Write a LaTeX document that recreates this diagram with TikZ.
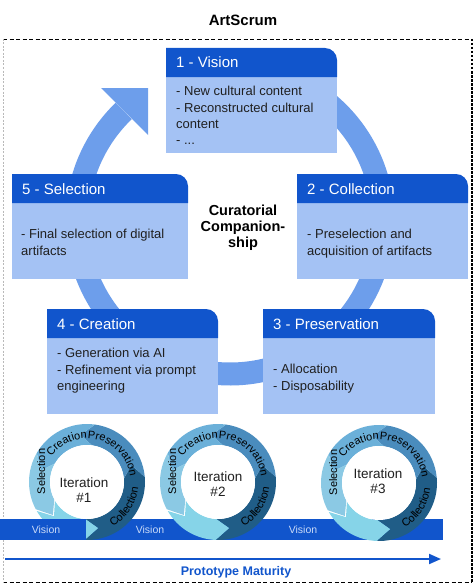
\documentclass[tikz,border=0pt]{standalone}
\usepackage{fontspec}
\setmainfont{Liberation Sans}
\usetikzlibrary{calc,decorations.text,arrows.meta}
\definecolor{hdr}{HTML}{1155CC}
\definecolor{bod}{HTML}{A4C2F4}
\definecolor{ringc}{HTML}{6D9EEB}
\definecolor{txt}{HTML}{202020}
\definecolor{cSel}{HTML}{8BC9E4}
\definecolor{cCre}{HTML}{6BB0D9}
\definecolor{cPre}{HTML}{4A8CBD}
\definecolor{cCol}{HTML}{205D87}
\definecolor{cVis}{HTML}{86D4E8}
\definecolor{vistxt}{HTML}{C9DAF8}
\newcommand\fs[2]{\fontsize{#1}{#2}\selectfont}
\newcommand\ringfont{\fontsize{11}{13}\selectfont}
\def\rO{58}
\def\rI{37}
\def\rM{47.5}
\def\dA{16}
% annular segment with notched trailing end and pointed leading end
\newcommand\ringseg[3]{%
  \fill[#3] (#1:\rO) arc[start angle=#1, end angle=#2, radius=\rO]
    -- ({#2-\dA}:\rM) -- (#2:\rI) arc[start angle=#2, end angle=#1, radius=\rI]
    -- ({#1-\dA}:\rM) -- cycle;}
\newcommand\stagebox[5]{%
  \fill[bod] (#1,#4) rectangle (#3,#5);
  \fill[hdr] (#1,#4) -- (#1,#2) -- ({#3-12},#2) arc[start angle=270, end angle=360, radius=12] -- (#3,#4) -- cycle;}
\newcommand\iterring[3]{%
  \begin{scope}[shift={(#1,#2)}]
    \ringseg{150}{92}{cVis}
    \ringseg{92}{-5}{cCol}
    \ringseg{-5}{-82}{cPre}
    \ringseg{-82}{-150}{cCre}
    \ringseg{-150}{-208}{cSel}
    \fill[white] (0,0) circle[radius=\rI];
    \node[ringlbl, rotate=90] (sel#3) at (193:47) {Selection};
    \path[decorate, decoration={text along path, text align=center,
      text={|\ringfont|Creation}}] (-155.5:43.5) arc[start angle=-155.5, end angle=-79.5, radius=43.5];
    \path[decorate, decoration={text along path, text align=center,
      text={|\ringfont|Preservation}}] (-100.5:43.5) arc[start angle=-100.5, end angle=3.5, radius=43.5];
    \path[decorate, decoration={text along path, text align=center,
      text={|\ringfont|Collection}}] (77:51.5) arc[start angle=77, end angle=-11, radius=51.5];
  \end{scope}}
\begin{document}
\begin{tikzpicture}[x=1pt,y=-1pt,
  hdrtext/.style={anchor=west, text=white, font=\fs{15}{18}, inner sep=0},
  bodytext/.style={anchor=north west, align=left, text=txt, font=\fs{13}{16.3}, inner sep=0},
  ringlbl/.style={font=\ringfont, text=black, inner sep=0},
  itertext/.style={align=center, text=txt, font=\fs{13.5}{15.5}, inner sep=0},
  vislbl/.style={text=vistxt, font=\fs{10.5}{12}, inner sep=0}]
\useasboundingbox (0,0) rectangle (474,586);

% frame
\coordinate (ftl) at (3,39);
\coordinate (ftr) at (472,39);
\coordinate (fbl) at (3,582.5);
\coordinate (fbr) at (472,582.5);
\draw[black, line width=0.8, dash pattern=on 4pt off 2.5pt] (ftl) -- (ftr);
\draw[black, line width=0.8, dash pattern=on 4pt off 2.5pt] (fbl) -- (fbr);
\draw[black, line width=2, dash pattern=on 2.5pt off 1.5pt] (ftr) -- (fbr);
\draw[gray!55, line width=1, dash pattern=on 2pt off 1.5pt] (ftl) -- (fbl);

\node[font=\bfseries\fs{15}{18}, text=black] (title) at (243,20) {ArtScrum};

% big circular arrow
\draw[ringc, line width=23] (230,221) ++(226:153) arc[start angle=226, end angle=-100, radius=153];
\fill[ringc] (101,88) -- (148,135) -- (148,88) -- cycle;

% stage boxes
\stagebox{166}{48}{337}{77}{153}
\stagebox{12}{174}{188}{203}{279}
\stagebox{297}{174}{468}{203}{279}
\stagebox{47}{309}{218}{338}{414}
\stagebox{263}{309}{435}{338}{414}

\node[hdrtext] (h1) at (176,62.5) {1 - Vision};
\node[hdrtext] (h5) at (22,189) {5 - Selection};
\node[hdrtext] (h2) at (307,189) {2 - Collection};
\node[hdrtext] (h4) at (57,324) {4 - Creation};
\node[hdrtext] (h3) at (273,324) {3 - Preservation};

\node[bodytext] (b1) at (176,86.2) {- New cultural content\\- Reconstructed cultural\\content\\- ...};
\node[bodytext] (b5) at (21,229.2) {- Final selection of digital\\artifacts};
\node[bodytext] (b2) at (307,229.2) {- Preselection and\\acquisition of artifacts};
\node[bodytext] (b4) at (57,348.2) {- Generation via AI\\- Refinement via prompt\\engineering};
\node[bodytext] (b3) at (273,364.2) {- Allocation\\- Disposability};

\node[align=center, font=\bfseries\fs{14.5}{15.8}, text=black, inner sep=0] (cur) at (243,228) {Curatorial\\Companion-\\ship};

% iteration bar
\fill[hdr] (0,519) rectangle (443,540);
\iterring{87}{482}{1}
\fill[hdr] (0,519) rectangle (85.5,540);
\iterring{218}{482}{2}
\iterring{379}{483}{3}
\node[vislbl] (v1) at (46,529.5) {Vision};
\node[vislbl] (v2) at (150,529.5) {Vision};
\node[vislbl] (v3) at (303,529.5) {Vision};

\node[itertext] (it1) at (84,490) {Iteration\\\#1};
\node[itertext] (it2) at (218,484) {Iteration\\\#2};
\node[itertext] (it3) at (378,481) {Iteration\\\#3};

% maturity arrow
\coordinate (ma) at (5,559);
\coordinate (mb) at (441,559);
\draw[hdr, line width=2, -{Triangle[length=12pt,width=10pt]}] (ma) -- (mb);
\node[font=\bfseries\fs{12.5}{14}, text=hdr] (mat) at (236,572) {Prototype Maturity};
\end{tikzpicture}
\end{document}
